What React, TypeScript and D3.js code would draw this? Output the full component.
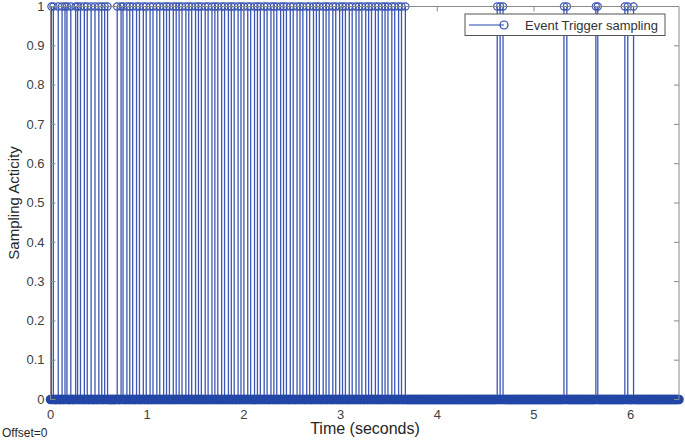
import React from "react";
import * as d3 from "d3";

// times (s) where the trigger fired (value 1)
const eventTimes = [
  0.01, 0.03, 0.08, 0.12, 0.15, 0.17, 0.21, 0.26, 0.28, 0.31, 0.35, 0.38, 0.42, 0.46, 0.5, 0.53, 0.56, 0.59,
  0.69, 0.73, 0.75, 0.79, 0.82, 0.85, 0.89, 0.92, 0.96, 0.99, 1.03, 1.06, 1.1, 1.13, 1.17, 1.2, 1.23, 1.27,
  1.3, 1.33, 1.36, 1.4, 1.43, 1.46, 1.5, 1.53, 1.56, 1.6, 1.63, 1.67, 1.7, 1.73, 1.77, 1.8, 1.84, 1.87, 1.9,
  1.94, 1.97, 2.0, 2.04, 2.07, 2.11, 2.14, 2.17, 2.21, 2.24, 2.28, 2.31, 2.34, 2.38, 2.41, 2.44, 2.48, 2.51,
  2.55, 2.58, 2.61, 2.65, 2.68, 2.72, 2.75, 2.78, 2.82, 2.85, 2.88, 2.92, 2.95, 2.99, 3.02, 3.05, 3.09, 3.12,
  3.16, 3.19, 3.22, 3.26, 3.29, 3.32, 3.36, 3.39, 3.43, 3.46, 3.49, 3.53, 3.56, 3.6, 3.63, 3.67,
  4.62, 4.65, 4.68, 5.31, 5.34, 5.64, 5.66, 5.94, 5.97, 6.03,
];
const sampleStep = 0.01;
const tMax = 6.5;
const xTicks = [0, 1, 2, 3, 4, 5, 6];
const yTicks = [0, 0.1, 0.2, 0.3, 0.4, 0.5, 0.6, 0.7, 0.8, 0.9, 1];

const W = 685;
const H = 442;
const margin = { left: 50.5, right: 6, top: 6.5, bottom: 42.5 };
const blue = "#2347a6";
const stemBlue = "#3b56b4";
const font = "'Liberation Sans', Arial, sans-serif";

export default function App() {
  const x = d3.scaleLinear().domain([0, tMax]).range([margin.left, W - margin.right]);
  const y = d3.scaleLinear().domain([0, 1]).range([H - margin.bottom, margin.top]);

  const eventKeys = new Set(eventTimes.map((t) => Math.round(t / sampleStep)));
  const zeroTimes = d3
    .range(0, Math.round(tMax / sampleStep) + 1)
    .filter((k) => !eventKeys.has(k))
    .map((k) => k * sampleStep);

  const [x0, x1] = x.range();
  const [y0, y1] = y.range();
  const tickLen = 5;

  return (
    <svg width={W} height={H} style={{ position: "absolute", left: 0, top: 0, background: "#fff" }}>
      {/* stems */}
      <g stroke={stemBlue} strokeWidth={1.3}>
        {eventTimes.map((t, i) => (
          <line key={i} x1={x(t)} x2={x(t)} y1={y(0)} y2={y(1)} />
        ))}
      </g>
      {/* zero-valued samples, so dense they merge into a band */}
      <g fill={blue} stroke={blue} strokeWidth={1.6}>
        {zeroTimes.map((t, i) => (
          <circle key={i} cx={x(t)} cy={y(0)} r={4} />
        ))}
      </g>
      <g fill="none" stroke={stemBlue} strokeWidth={1.2}>
        {eventTimes.map((t, i) => (
          <circle key={i} cx={x(t)} cy={y(1)} r={3.6} />
        ))}
      </g>

      {/* axes box */}
      <g stroke="#8a8a8a" strokeWidth={1} fill="none">
        <line x1={x0} x2={x1} y1={y1} y2={y1} />
        <line x1={x1} x2={x1} y1={y1} y2={y0} />
        <line x1={x0} x2={x0} y1={y1} y2={y0} />
        {xTicks.map((t) => (
          <line key={t} x1={x(t)} x2={x(t)} y1={y1} y2={y1 + tickLen} />
        ))}
        {yTicks.map((t) => (
          <g key={t}>
            <line x1={x0} x2={x0 + tickLen} y1={y(t)} y2={y(t)} />
            <line x1={x1} x2={x1 - tickLen} y1={y(t)} y2={y(t)} />
          </g>
        ))}
      </g>

      {/* tick labels */}
      <g fontFamily={font} fontSize={13} fill="#404040">
        {xTicks.map((t) => (
          <text key={t} x={x(t)} y={y0 + 19} textAnchor="middle">
            {t}
          </text>
        ))}
        {yTicks.map((t) => (
          <text key={t} x={x0 - 6} y={y(t) + 4.2} textAnchor="end">
            {d3.format("~g")(t)}
          </text>
        ))}
      </g>

      <text x={365} y={434} fontFamily={font} fontSize={16} fill="#262626" textAnchor="middle">
        Time (seconds)
      </text>
      <text
        transform={`translate(19, ${(y0 + y1) / 2}) rotate(-90)`}
        fontFamily={font}
        fontSize={15}
        fill="#262626"
        textAnchor="middle"
      >
        Sampling Acticity
      </text>
      <text x={2} y={437} fontFamily={font} fontSize={12} fill="#262626">
        Offset=0
      </text>

      {/* legend */}
      <g>
        <rect x={465} y={14} width={200} height={21.5} fill="#fff" stroke="#555" strokeWidth={1} />
        <line x1={469} x2={504} y1={25} y2={25} stroke={blue} strokeWidth={1} />
        <circle cx={504} cy={25} r={4} fill="none" stroke={blue} strokeWidth={1.2} />
        <text x={525} y={29.5} fontFamily={font} fontSize={13} fill="#333">
          Event Trigger sampling
        </text>
      </g>
    </svg>
  );
}
